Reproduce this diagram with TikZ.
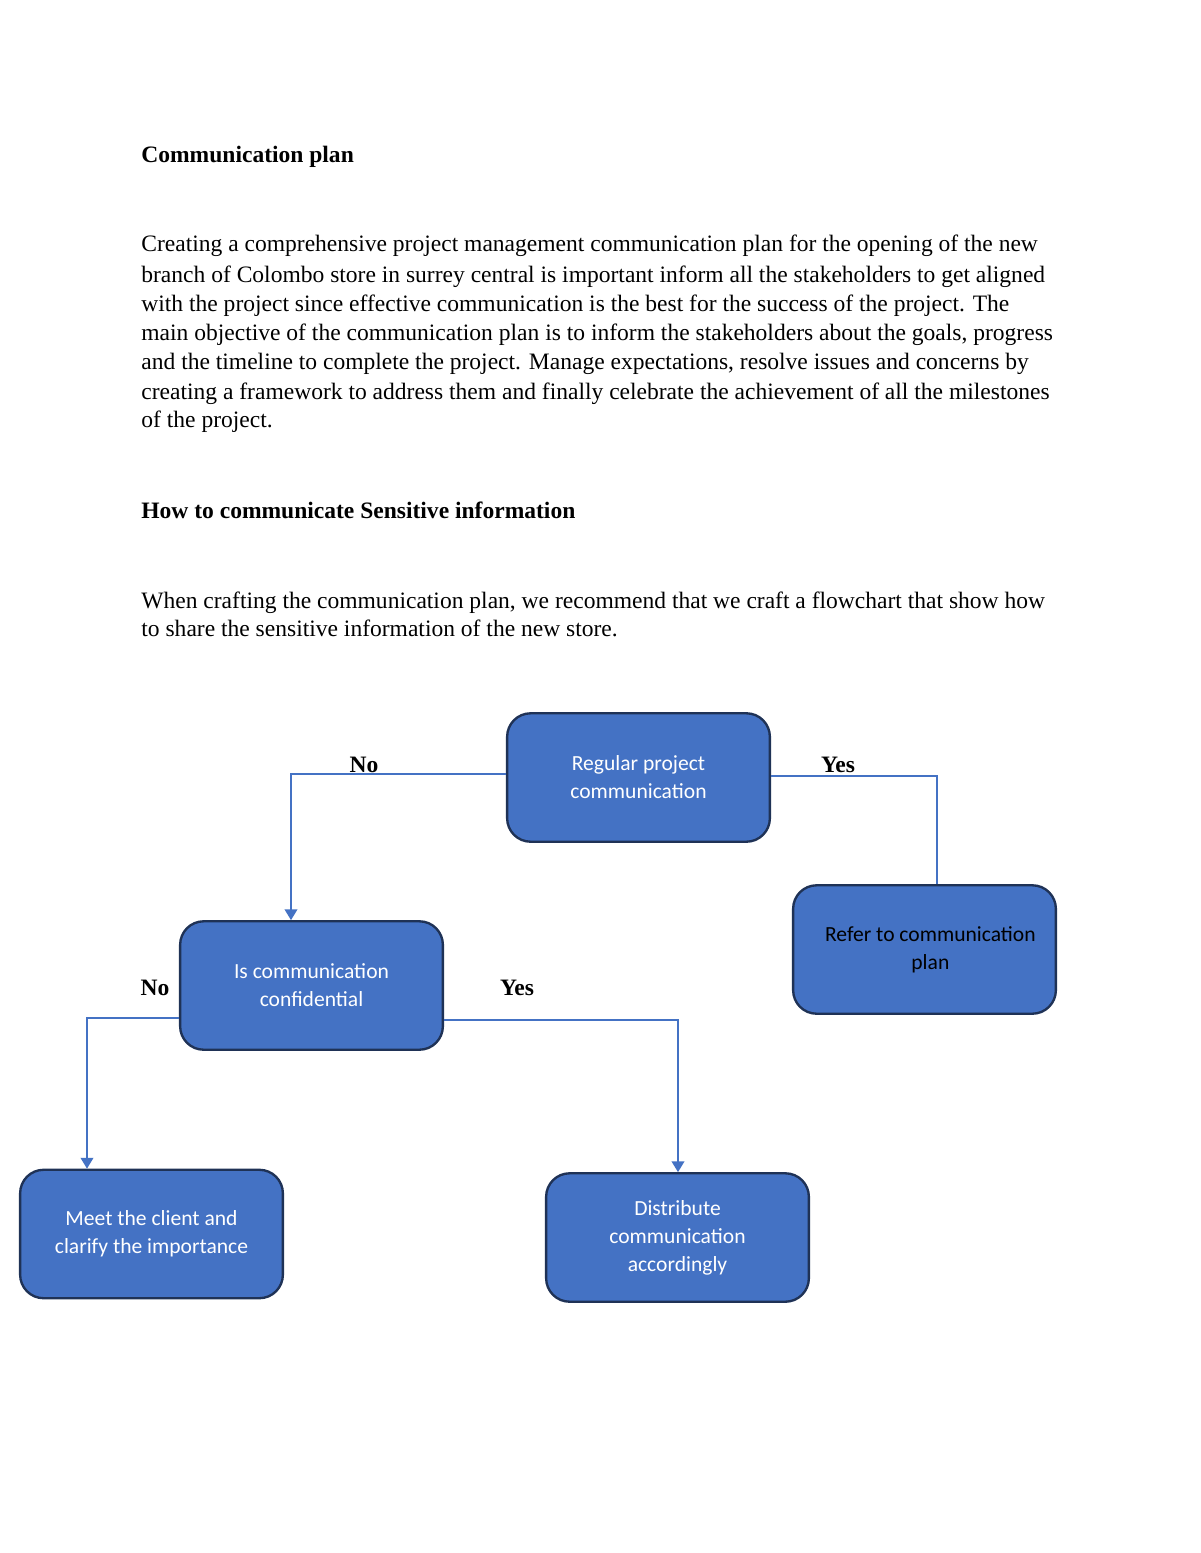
\documentclass[tikz,border=0pt]{standalone}
\usepackage{fontspec}
\setmainfont{Liberation Serif}
\newfontfamily\boxfont{Carlito}
\usetikzlibrary{arrows.meta}
\definecolor{boxfill}{HTML}{4472C4}
\definecolor{boxedge}{HTML}{1F3256}
\definecolor{linkblue}{HTML}{4472C4}
\begin{document}
\begin{tikzpicture}[x=0.51pt,y=-0.51pt,
  bodyline/.style={anchor=base west,inner sep=0pt,font=\fontsize{12}{14}\selectfont},
  headline/.style={anchor=base west,inner sep=0pt,font=\fontsize{12}{14}\selectfont\bfseries},
  flowbox/.style={draw=boxedge,line width=1.2pt,fill=boxfill,rounded corners=12pt,
    minimum width=134pt,minimum height=65.5pt,align=center,text=white,
    font=\boxfont\fontsize{11}{14.3}\selectfont},
  link/.style={draw=linkblue,line width=0.7pt},
  arrowlink/.style={link,-{Triangle[width=6.5pt,length=5.5pt]}},
  lab/.style={font=\fontsize{12}{14}\selectfont\bfseries,inner sep=0pt}]
\useasboundingbox[fill=white] (0,0) rectangle (1200,1553);

\node[headline] (t1) at (141,163) {Communication plan};
\node[bodyline] (p1) at (141,252) {Creating a comprehensive project management communication plan for the opening of the new};
\node[bodyline] (p2) at (141,282) {branch of Colombo store in surrey central is important inform all the stakeholders to get aligned};
\node[bodyline] (p3) at (141,311) {with the project since effective communication is the best for the success of the project. The};
\node[bodyline] (p4) at (141,340) {main objective of the communication plan is to inform the stakeholders about the goals, progress};
\node[bodyline] (p5) at (141,369) {and the timeline to complete the project. Manage expectations, resolve issues and concerns by};
\node[bodyline] (p6) at (141,399) {creating a framework to address them and finally celebrate the achievement of all the milestones};
\node[bodyline] (p7) at (141,427) {of the project.};
\node[headline] (t2) at (141,518) {How to communicate Sensitive information};
\node[bodyline] (q1) at (141,608) {When crafting the communication plan, we recommend that we craft a flowchart that show how};
\node[bodyline] (q2) at (141,636) {to share the sensitive information of the new store.};

\node[flowbox] (reg) at (638.5,777.5) {Regular project\\communication};
\node[flowbox,text=black] (ref) at (924.5,949.5) {\hspace*{6pt}Refer to communication\\\hspace*{6pt}plan};
\node[flowbox] (conf) at (311.5,985.5) {Is communication\\confidential};
\node[flowbox] (meet) at (151.5,1234) {Meet the client and\\clarify the importance};
\node[flowbox] (dist) at (677.5,1237.5) {Distribute\\communication\\accordingly};

\coordinate (c1) at (291,774);
\coordinate (c2) at (937,776);
\coordinate (c3) at (87,1018);
\coordinate (c4) at (678,1020);

\draw[arrowlink] (reg.west |- c1) -- (c1) -- (c1 |- conf.north);
\draw[link] (reg.east |- c2) -- (c2) -- (c2 |- ref.north);
\draw[arrowlink] (conf.west |- c3) -- (c3) -- (c3 |- meet.north);
\draw[arrowlink] (conf.east |- c4) -- (c4) -- (c4 |- dist.north);

\node[lab] (n1) at (364,765) {No};
\node[lab] (y1) at (838,765) {Yes};
\node[lab] (n2) at (155,988) {No};
\node[lab] (y2) at (517,988) {Yes};
\end{tikzpicture}
\end{document}
